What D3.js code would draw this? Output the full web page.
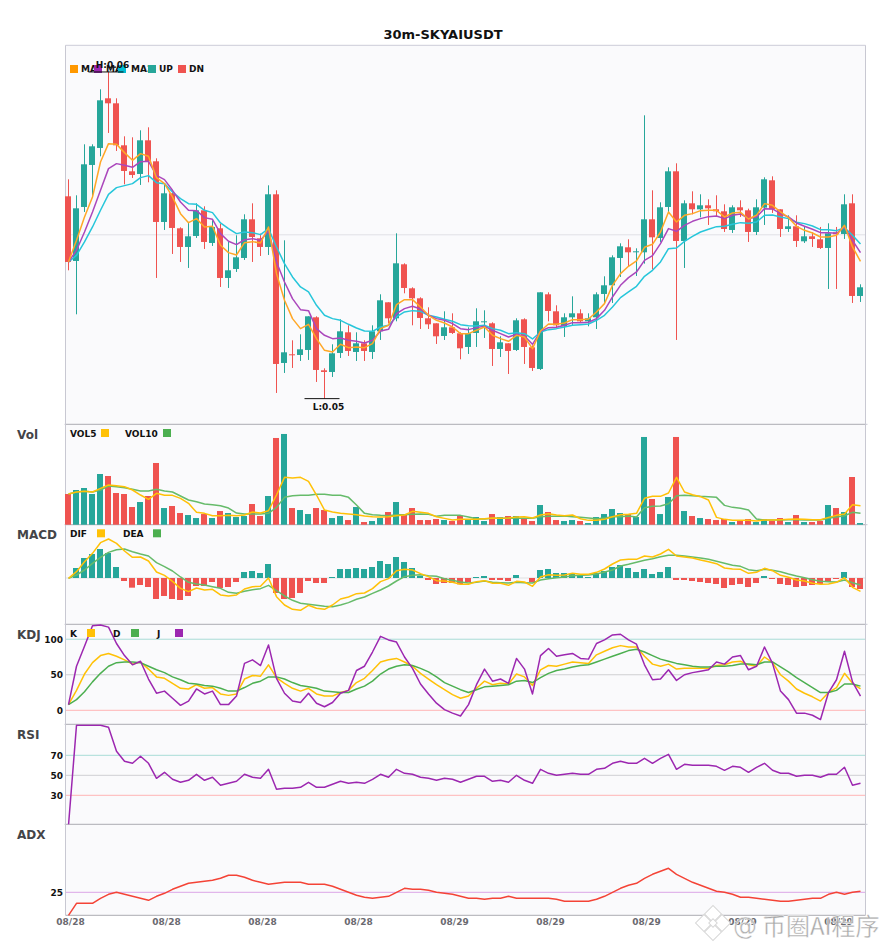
<!DOCTYPE html>
<html><head><meta charset="utf-8">
<script src="https://cdn.jsdelivr.net/npm/d3@7/dist/d3.min.js"></script>
<style>html,body{margin:0;padding:0;background:#fff}svg{display:block}text{font-family:"DejaVu Sans",sans-serif;font-weight:bold}</style>
</head><body><svg id="c" width="885" height="950"></svg>
<script>
// prices are in units of 0.00001
const open_ = [5642,5448,5610,5736,5787,5936,5921,5795,5717,5709,5810,5747,5565,5651,5546,5490,5523,5600,5502,5546,5397,5424,5457,5573,5516,5490,5648,5142,5168,5166,5181,5279,5120,5115,5172,5234,5175,5201,5175,5237,5324,5276,5438,5366,5336,5276,5261,5223,5249,5231,5190,5232,5265,5261,5184,5201,5181,5273,5189,5124,5348,5297,5252,5279,5291,5267,5279,5349,5375,5457,5489,5475,5474,5573,5517,5610,5717,5508,5621,5603,5615,5603,5597,5541,5609,5600,5535,5608,5690,5603,5544,5552,5507,5522,5513,5487,5534,5529,5621,5343];
const close_ = [5445,5606,5738,5792,5930,5921,5795,5718,5706,5810,5747,5565,5651,5547,5490,5522,5600,5505,5550,5397,5420,5459,5573,5520,5490,5648,5139,5174,5166,5183,5282,5121,5115,5171,5237,5178,5201,5178,5237,5330,5276,5441,5367,5336,5277,5258,5222,5249,5232,5186,5231,5267,5267,5184,5204,5178,5270,5190,5127,5354,5298,5255,5279,5291,5267,5276,5348,5375,5459,5492,5474,5477,5573,5519,5609,5717,5508,5621,5603,5615,5606,5597,5544,5609,5600,5535,5609,5693,5603,5544,5552,5508,5522,5514,5487,5531,5528,5618,5343,5369];
const high_ = [5693,5645,5798,5798,5963,6015,5936,5822,5819,5840,5849,5756,5678,5654,5549,5564,5621,5612,5570,5560,5505,5525,5588,5621,5530,5675,5660,5510,5210,5228,5282,5282,5126,5198,5273,5255,5234,5210,5255,5348,5324,5531,5441,5369,5339,5309,5261,5297,5291,5234,5249,5306,5300,5264,5222,5201,5276,5276,5195,5354,5354,5315,5291,5342,5303,5291,5354,5402,5465,5501,5513,5486,5885,5660,5624,5729,5741,5630,5657,5648,5633,5645,5618,5615,5630,5605,5633,5699,5702,5603,5585,5585,5550,5534,5550,5561,5550,5648,5648,5378];
const low_ = [5420,5288,5595,5640,5762,5832,5778,5678,5697,5676,5684,5397,5541,5469,5445,5427,5517,5484,5493,5370,5367,5415,5451,5445,5463,5466,5052,5112,5127,5148,5151,5085,5035,5100,5157,5163,5148,5148,5154,5211,5261,5267,5351,5255,5244,5244,5199,5211,5229,5153,5169,5190,5217,5133,5160,5109,5178,5139,5118,5121,5267,5249,5220,5255,5264,5252,5244,5322,5322,5400,5430,5403,5440,5423,5505,5595,5211,5427,5588,5579,5556,5580,5535,5532,5580,5505,5526,5556,5592,5520,5535,5490,5502,5490,5484,5364,5364,5514,5322,5325];
const ma5 = [5445,5510,5580,5640,5745,5800,5798,5773,5750,5770,5762,5698,5680,5640,5590,5563,5575,5550,5552,5495,5473,5466,5503,5506,5502,5550,5410,5330,5275,5245,5258,5215,5180,5175,5198,5188,5190,5188,5200,5245,5255,5317,5332,5332,5310,5285,5270,5262,5250,5230,5230,5240,5250,5225,5215,5207,5225,5220,5185,5238,5259,5258,5262,5272,5272,5274,5295,5320,5375,5410,5432,5448,5489,5498,5535,5595,5565,5585,5590,5599,5600,5600,5580,5592,5594,5574,5585,5620,5615,5595,5578,5552,5540,5532,5520,5520,5525,5555,5490,5447];
const ma10 = [5445,5480,5535,5595,5660,5725,5740,5735,5729,5746,5747,5705,5692,5660,5625,5600,5599,5578,5573,5530,5507,5497,5512,5515,5510,5538,5445,5385,5335,5302,5299,5245,5225,5215,5217,5210,5207,5202,5210,5238,5243,5290,5305,5312,5304,5285,5275,5270,5260,5245,5242,5248,5252,5240,5230,5220,5228,5223,5198,5237,5248,5249,5255,5263,5263,5264,5275,5300,5340,5375,5398,5415,5450,5464,5500,5545,5537,5555,5567,5575,5581,5583,5575,5585,5589,5575,5580,5605,5604,5590,5580,5562,5552,5543,5533,5533,5531,5550,5510,5473];
const ma20 = [5445,5465,5505,5550,5600,5648,5668,5674,5680,5698,5704,5683,5680,5655,5635,5620,5618,5600,5593,5562,5545,5530,5535,5533,5527,5545,5490,5440,5400,5370,5355,5315,5285,5275,5270,5258,5247,5238,5237,5250,5255,5280,5295,5299,5297,5285,5280,5273,5267,5257,5254,5253,5255,5245,5240,5230,5233,5230,5214,5235,5242,5245,5250,5255,5257,5259,5270,5285,5310,5338,5355,5372,5402,5420,5445,5485,5487,5507,5522,5535,5543,5551,5552,5558,5563,5561,5565,5585,5586,5580,5575,5564,5560,5553,5542,5542,5539,5548,5525,5499];
const volume = [92,104,110,92,152,146,95,92,53,68,86,185,50,56,35,29,20,32,20,41,35,23,26,62,26,86,260,272,50,44,32,50,44,20,26,14,53,8,11,20,38,68,29,50,14,14,17,14,11,26,14,23,11,32,23,26,26,20,11,59,38,14,11,14,11,5,23,32,47,35,32,23,263,77,32,83,263,41,26,20,17,14,17,8,11,17,8,17,11,20,8,29,8,8,11,59,50,38,143,5];
const vol5 = [92,98,100,98,109,119,117,114,104,89,76,94,88,88,79,64,37,34,27,27,28,27,29,38,35,42,89,142,140,142,130,89,44,38,34,32,30,26,24,23,24,27,29,40,37,34,24,19,14,16,16,16,18,20,19,20,23,24,20,29,33,29,27,29,18,13,13,16,24,30,31,34,79,85,85,95,142,98,90,84,74,22,16,13,13,13,11,14,14,15,16,17,16,15,15,22,28,32,60,57];
const vol10 = [92,98,100,98,104,116,114,111,106,101,101,106,101,98,86,74,69,62,60,57,50,35,32,32,32,34,52,82,87,88,88,91,91,88,88,82,59,34,30,28,27,30,30,31,32,31,25,28,28,28,23,18,17,19,19,19,19,19,19,24,25,25,26,24,22,20,18,20,24,24,26,23,51,55,56,63,87,88,87,85,84,82,58,52,49,44,17,14,14,14,15,15,14,14,14,19,23,27,37,34];
const macdHist = [0,30,60,72,87,75,33,-9,-29,-21,-27,-63,-54,-63,-66,-54,-24,-24,-12,-30,-27,-12,18,21,15,42,-45,-63,-60,-45,-9,-15,-15,3,27,27,30,27,33,51,42,63,48,30,6,-6,-18,-15,-15,-19,-12,3,6,-6,-6,-9,9,0,-12,24,27,15,15,12,9,3,15,21,33,39,30,18,27,12,18,33,-6,-6,-9,-12,-15,-18,-30,-21,-18,-27,-15,6,-3,-18,-21,-27,-24,-21,-18,-12,-3,18,-27,-33];
const dif = [-1,19,49,74,106,117,104,81,62,63,51,18,8,-10,-31,-41,-30,-36,-34,-51,-54,-51,-33,-26,-25,0,-56,-81,-94,-97,-82,-91,-94,-81,-63,-57,-47,-45,-32,-11,-2,22,26,24,13,4,-8,-9,-13,-19,-19,-11,-8,-16,-16,-22,-10,-12,-25,3,10,8,9,14,11,11,17,27,42,54,56,56,66,63,72,86,66,63,60,54,49,43,30,27,26,14,17,29,22,8,2,-6,-9,-16,-19,-18,-13,1,-28,-40];
const dea = [-1,9,24,44,62,77,85,87,79,72,66,46,34,21,3,-13,-18,-21,-26,-31,-43,-46,-40,-35,-32,-22,-38,-54,-67,-76,-79,-82,-85,-86,-81,-74,-64,-57,-46,-36,-24,-9,4,8,10,7,5,-2,-7,-12,-15,-13,-9,-13,-14,-15,-13,-14,-15,-6,-2,1,3,7,8,9,12,18,24,36,41,47,53,58,64,68,68,66,63,60,56,50,44,38,35,25,22,26,23,19,12,6,1,-5,-10,-11,-12,-6,-14,-21];
const kdjK = [8,28,51,67,77,80,76,71,65,68,58,47,45,38,31,30,36,31,32,23,21,23,44,49,48,64,46,38,31,27,31,23,20,20,25,28,39,45,56,68,71,73,68,62,52,44,36,29,22,17,20,31,41,36,38,37,51,47,35,57,63,62,65,68,67,66,78,83,88,91,89,89,76,65,62,65,58,59,59,59,59,63,64,68,69,64,62,75,67,50,41,30,24,19,13,25,32,52,38,30];
const kdjD = [8,15,26,40,52,62,67,68,68,67,62,57,53,47,43,38,37,35,34,31,27,27,32,38,41,47,47,44,39,35,33,31,27,26,25,25,30,34,41,51,58,62,64,63,59,54,47,39,34,29,25,29,33,34,35,36,41,42,39,46,52,56,58,61,63,64,68,72,76,80,84,86,82,77,72,69,66,64,62,61,61,62,62,63,65,65,64,68,68,61,54,46,39,32,25,25,28,37,37,34];
const kdjJ = [8,62,90,119,120,117,94,77,64,69,44,24,27,17,7,13,30,23,27,8,8,20,66,71,63,92,45,24,13,11,24,10,5,11,24,28,56,62,82,104,99,96,75,59,37,23,10,1,-4,-8,8,36,58,41,44,38,73,58,23,77,87,76,78,80,73,72,94,99,106,107,99,93,64,43,44,57,42,50,53,55,57,68,65,75,77,57,62,89,66,27,15,-4,-4,-7,-13,25,43,83,40,20];
const rsi = [0,100,100,100,100,98,74,64,62,69,62,47,53,46,43,45,51,45,48,40,42,44,51,48,47,56,36,37,37,38,43,38,38,41,44,42,43,42,46,51,48,56,52,51,48,47,45,47,46,43,46,49,49,44,45,43,50,45,42,56,52,50,51,52,51,51,56,57,62,64,62,62,67,62,67,71,56,61,60,60,60,59,55,59,58,53,58,62,55,52,52,49,50,50,48,51,51,58,40,42];
const adx = [2,14,14,14,19,23,25,23,21,19,17,21,24,28,31,34,35,36,37,39,42,42,40,37,35,33,34,35,35,35,33,33,33,31,28,25,22,20,19,20,21,25,29,28,28,27,25,24,23,21,19,19,18,19,19,21,19,19,19,19,19,18,16,16,16,16,18,21,25,29,32,34,39,43,46,49,43,39,35,32,29,26,25,23,20,20,19,18,17,16,16,17,18,19,19,23,25,23,25,26];
const dateTicks = ["08/28","08/28","08/28","08/28","08/29","08/29","08/29","08/29","08/29"];
const tickEvery = 12;

const UP="#26a69a", DN="#ef5350";
const svg=d3.select("#c");
const idx=d3.range(open_.length);
const x=d3.scaleBand().domain(idx).range([65,865]);
const cx=i=>x(i)+3.5;
const L=65.5,R=865.5;
const topY=45.3, T={vol:424.3,macd:524.7,kdj:624.3,rsi:724.3,adx:824.3,end:915.3};

const yMain=d3.scaleLinear().domain([4958,6095]).range([T.vol,topY]);
const yVol=d3.scaleLinear().domain([0,301]).range([T.macd,T.vol]);
const yMacd=d3.scaleLinear().domain([-139,160]).range([T.kdj,T.macd]);
const yKdj=d3.scaleLinear().domain([-19.7,121]).range([T.rsi,T.kdj]);
const yRsi=d3.scaleLinear().domain([0,101]).range([825.3,T.rsi]);
const yAdx=d3.scaleLinear().domain([2,93]).range([T.end,T.adx]);

svg.append("rect").attr("x",L).attr("y",topY).attr("width",R-L).attr("height",T.end-topY).attr("fill","#fafafc");
svg.append("defs").append("clipPath").attr("id","rsiClip").append("rect").attr("x",L-1).attr("y",T.rsi).attr("width",R-L+2).attr("height",T.adx-T.rsi);

function hline(y,c){svg.append("line").attr("x1",L).attr("x2",R).attr("y1",y).attr("y2",y).attr("stroke",c).attr("stroke-width",1);}
hline(yMain(5526.5),"#e0e0e6");
hline(yMacd(0),"#e0e0e0");
hline(yKdj(100),"#a8dcd6");hline(yKdj(50),"#cfcfd2");hline(yKdj(0),"#ffb4b4");
hline(yRsi(70),"#a8dcd6");hline(yRsi(50),"#cfcfd2");hline(yRsi(30),"#ffb4b4");
hline(yAdx(25),"#dba6e6");

// frame
[T.vol,T.macd,T.kdj,T.rsi,T.adx,T.end].forEach(y=>hline(y,"#acacb2"));
hline(topY,"#ccccd8");
svg.append("line").attr("x1",L).attr("x2",L).attr("y1",topY).attr("y2",T.end).attr("stroke","#c8c8d2");
svg.append("line").attr("x1",R).attr("x2",R).attr("y1",topY).attr("y2",T.end).attr("stroke","#c8c8d2");
[T.vol,T.macd,T.kdj,T.rsi,T.adx].forEach(y=>{
  svg.append("line").attr("x1",R).attr("x2",R+2).attr("y1",y).attr("y2",y).attr("stroke","#c8c8d2");
  svg.append("line").attr("x1",L-1).attr("x2",L).attr("y1",y).attr("y2",y).attr("stroke","#c8c8d2");
});

// candles
const g=svg.append("g");
const isUp=i=>close_[i]>=open_[i];
g.selectAll("line.w").data(idx).join("line").attr("class","w")
 .attr("x1",cx).attr("x2",cx).attr("y1",i=>yMain(high_[i])).attr("y2",i=>yMain(low_[i]))
 .attr("stroke",i=>isUp(i)?UP:DN).attr("stroke-width",1);
g.selectAll("rect.b").data(idx).join("rect").attr("class","b")
 .attr("x",i=>x(i)).attr("width",6)
 .attr("y",i=>yMain(Math.max(open_[i],close_[i])))
 .attr("height",i=>Math.max(1,Math.abs(yMain(open_[i])-yMain(close_[i]))))
 .attr("fill",i=>isUp(i)?UP:DN);

function ln(data,y,c,w,clip){
  const p=svg.append("path").datum(data)
   .attr("d",d3.line().x((d,i)=>cx(i)).y(d=>y(d)))
   .attr("fill","none").attr("stroke",c).attr("stroke-width",w||1.5).attr("stroke-linejoin","round");
  if(clip)p.attr("clip-path",clip);
  return p;
}
ln(ma20,yMain,"#26c6da");
ln(ma10,yMain,"#ab47bc");
ln(ma5,yMain,"#ffa726");

// volume
svg.append("g").selectAll("rect").data(volume).join("rect")
 .attr("x",(d,i)=>x(i)).attr("width",6).attr("y",d=>yVol(d)).attr("height",d=>yVol(0)-yVol(d))
 .attr("fill",(d,i)=>isUp(i)?UP:DN);
ln(vol10,yVol,"#66bb6a");
ln(vol5,yVol,"#ffc107");

// macd
svg.append("g").selectAll("rect").data(macdHist).join("rect")
 .attr("x",(d,i)=>x(i)).attr("width",6).attr("y",d=>yMacd(Math.max(0,d))).attr("height",d=>Math.abs(yMacd(d)-yMacd(0)))
 .attr("fill",d=>d>=0?UP:DN);
ln(dea,yMacd,"#66bb6a");
ln(dif,yMacd,"#ffc107");

// kdj
ln(kdjK,yKdj,"#ffc107");
ln(kdjD,yKdj,"#4caf50");
ln(kdjJ,yKdj,"#9c27b0");
// rsi
ln(rsi,yRsi,"#9c27b0",1.5,"url(#rsiClip)");
// adx
ln(adx,yAdx,"#f44336");

// axes
function leftAxis(y,vals){
  const a=svg.append("g").attr("transform",`translate(65,0)`).call(d3.axisLeft(y).tickValues(vals).tickSize(0).tickPadding(2));
  a.select(".domain").remove();
  a.selectAll("text").attr("font-size",9).attr("fill","#111").style("font-family",'"DejaVu Sans"').style("font-weight","bold");
}
leftAxis(yKdj,[0,50,100]);leftAxis(yRsi,[30,50,70]);leftAxis(yAdx,[25]);
const tickIdx=dateTicks.map((d,i)=>i*tickEvery);
const xa=svg.append("g").attr("transform",`translate(1.5,${T.end+1})`)
 .call(d3.axisBottom(x).tickValues(tickIdx).tickSize(0).tickPadding(2).tickFormat(i=>dateTicks[i/tickEvery]));
xa.select(".domain").remove();
xa.selectAll("text").attr("font-size",9).attr("fill","#6a6a70").style("font-family",'"DejaVu Sans"').style("font-weight","bold");

// titles
svg.append("text").attr("x",443).attr("y",39).attr("text-anchor","middle").attr("font-size",13).attr("fill","#111").text("30m-SKYAIUSDT");
[["Vol",439],["MACD",539],["KDJ",639],["RSI",739],["ADX",839]].forEach(([t,y])=>
 svg.append("text").attr("x",17).attr("y",y).attr("font-size",12).attr("fill","#444448").text(t));

// legends
function lbl(t,xp,y,c){return svg.append("text").attr("x",xp).attr("y",y).attr("font-size",9).attr("fill",c||"#111").text(t);}
function sq(xp,y,c){svg.append("rect").attr("x",xp).attr("y",y).attr("width",8).attr("height",8).attr("fill",c);}
const defs=svg.select("defs");
[[81,94,"MA5"],[106,118,"MA10"],[131,148,"MA20"]].forEach(([a,b,t],k)=>{
  defs.append("clipPath").attr("id","lg"+k).append("rect").attr("x",a-1).attr("y",60).attr("width",b-a+1).attr("height",18);
  lbl(t,a,72).attr("clip-path",`url(#lg${k})`);
});
lbl("UP",159,72);lbl("DN",189,72);
sq(70,65,"#ff9800");sq(94,65,"#9c27b0");sq(118,65,"#00bcd4");sq(148,65,UP);sq(178,65,DN);
lbl("VOL5",70,437);sq(101,429,"#ffc107");lbl("VOL10",125,437);sq(163,429,"#4caf50");
lbl("DIF",70,537);sq(97,529.3,"#ffc107");lbl("DEA",123,537);sq(153,529.3,"#4caf50");
lbl("K",70,637);sq(87,629,"#ffc107");lbl("D",113,637);sq(131,629,"#4caf50");lbl("J",157,637);sq(175,629,"#9c27b0");

// high/low marks
const hi=d3.maxIndex(high_), lo=d3.minIndex(low_);
const fmt=v=>(v/1e5).toFixed(2);
[[hi,high_[hi],"H:",-3.5],[lo,low_[lo],"L:",11.5]].forEach(([i,v,p,dy])=>{
  const Y=yMain(v);
  svg.append("line").attr("x1",cx(i)-20).attr("x2",cx(i)+15).attr("y1",Y).attr("y2",Y).attr("stroke","#111").attr("stroke-width",1);
  svg.append("text").attr("x",cx(i)+4).attr("y",Y+dy).attr("text-anchor","middle").attr("font-size",9).attr("fill","#111").text(p+fmt(v));
});

// watermark
const wm=svg.append("g");
const logo=wm.append("g").attr("transform","translate(713,923)").attr("fill","#fff").attr("stroke","#d8d8d8").attr("stroke-width",1);
[[0,-9,6],[-9,0,6],[9,0,6],[0,9,6],[0,0,3]].forEach(([a,b,s])=>
  logo.append("rect").attr("x",a-s).attr("y",b-s).attr("width",2*s).attr("height",2*s).attr("transform",`rotate(45 ${a} ${b})`));
wm.append("text").attr("x",733).attr("y",935).attr("font-size",24).attr("fill","#b0b0b0").attr("stroke","#fff").attr("stroke-width",.4).style("font-weight","normal").text("@");
wm.append("text").attr("x",762).attr("y",935).attr("font-size",24).attr("fill","#a8a8a8").attr("stroke","#fff").attr("stroke-width",.4)
  .style("font-family",'"Noto Sans CJK SC"').style("font-weight","400").text("币圈AI程序");
</script></body></html>
